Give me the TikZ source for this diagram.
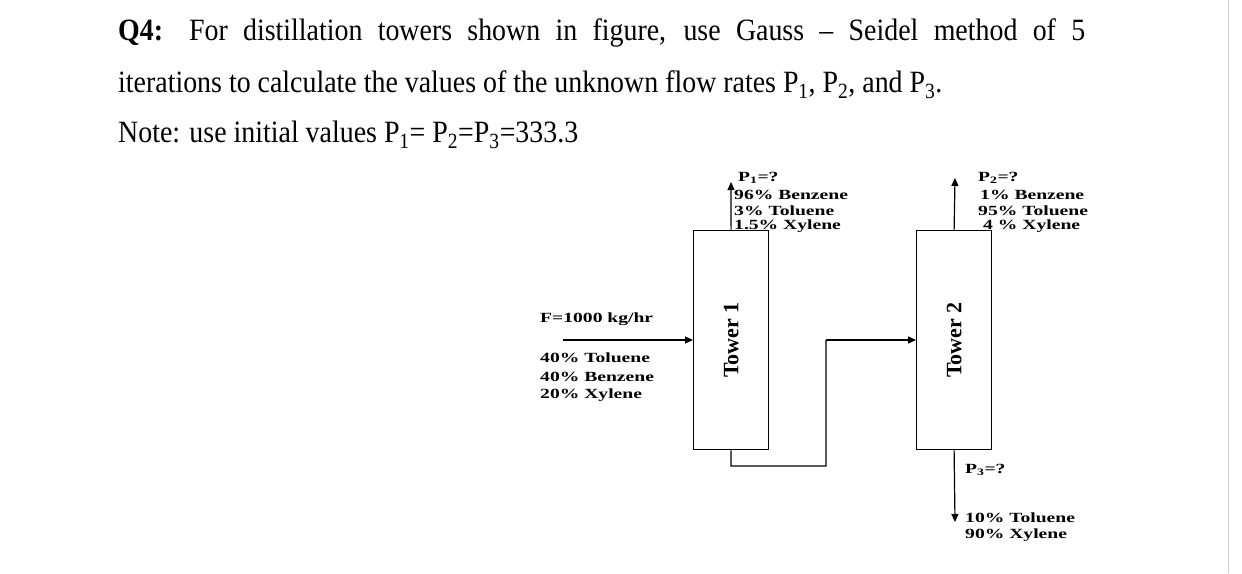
\documentclass[tikz,border=0pt]{standalone}
\usepackage{fontspec}
\setmainfont{Liberation Serif}
\newfontfamily\tfont[FakeStretch=0.9]{Liberation Serif}
\newfontfamily\lfont[FakeStretch=1.4]{Liberation Serif}
\usetikzlibrary{arrows.meta}
\begin{document}
\begin{tikzpicture}[x=1pt,y=-1pt,
  tower/.style={draw,line width=1.2pt,minimum width=75pt,minimum height=219pt,anchor=north west,inner sep=0pt},
  flow/.style={line width=1.2pt,-{Triangle[length=8pt,width=7pt]}},
  pipe/.style={line width=1.2pt},
  lbl/.style={font=\lfont\fontsize{14}{15}\selectfont\bfseries,inner sep=0pt,anchor=west},
  twr/.style={rotate=90,font=\fontsize{22}{24}\selectfont\bfseries},
  big/.style={font=\tfont\fontsize{31}{34}\selectfont,inner sep=0pt,anchor=west}]
\useasboundingbox (0,0) rectangle (1242,573);
\fill[white] (0,0) rectangle (1242,573);
\draw[gray!40,line width=1pt] (1228,0) -- (1228,573);
\node[big] (l1) at (118,33) {\makebox[967pt][s]{\textbf{Q4:} For distillation towers shown in figure, use Gauss – Seidel method of 5}};
\node[big] (l2) at (118,85) {iterations to calculate the values of the unknown flow rates P\textsubscript{1}, P\textsubscript{2}, and P\textsubscript{3}.};
\node[big] (l3) at (118,135) {Note: use initial values P\textsubscript{1}= P\textsubscript{2}=P\textsubscript{3}=333.3};
\node[tower] (t1) at (693,230) {};
\node[tower] (t2) at (916,230) {};
\node[twr] (t1l) at (t1.center) {Tower 1};
\node[twr] (t2l) at (t2.center) {Tower 2};
\coordinate (top1) at (731,182);
\coordinate (top2) at (955,178);
\coordinate (bot2) at (955,522);
\coordinate (feed) at (563,340);
\draw[flow] (t1.north) -- (top1);
\draw[flow] (t2.north) -- (top2);
\draw[flow] (t2.south) -- (bot2);
\draw[flow] (feed) -- (feed -| t1.west);
\draw[pipe] (t1.south) -- (731,466) -- (826,466) -- (826,340);
\draw[flow] (826,340) -- (t2.west |- 0,340);
\node[lbl] (p1) at (738,178) {P\textsubscript{1}=?};
\node[lbl] (a1) at (734,195) {96\% Benzene};
\node[lbl] (a2) at (734,211) {3\% Toluene};
\node[lbl] (a3) at (734,226) {1.5\% Xylene};
\node[lbl] (p2) at (978,178) {P\textsubscript{2}=?};
\node[lbl] (b1) at (980,195) {1\% Benzene};
\node[lbl] (b2) at (978,211) {95\% Toluene};
\node[lbl] (b3) at (983,226) {4 \% Xylene};
\node[lbl] (f0) at (540,319) {F=1000 kg/hr};
\node[lbl] (f1) at (540,358) {40\% Toluene};
\node[lbl] (f2) at (540,377) {40\% Benzene};
\node[lbl] (f3) at (540,395) {20\% Xylene};
\node[lbl] (p3) at (965,470) {P\textsubscript{3}=?};
\node[lbl] (c1) at (965,518) {10\% Toluene};
\node[lbl] (c2) at (965,535) {90\% Xylene};
\end{tikzpicture}
\end{document}
